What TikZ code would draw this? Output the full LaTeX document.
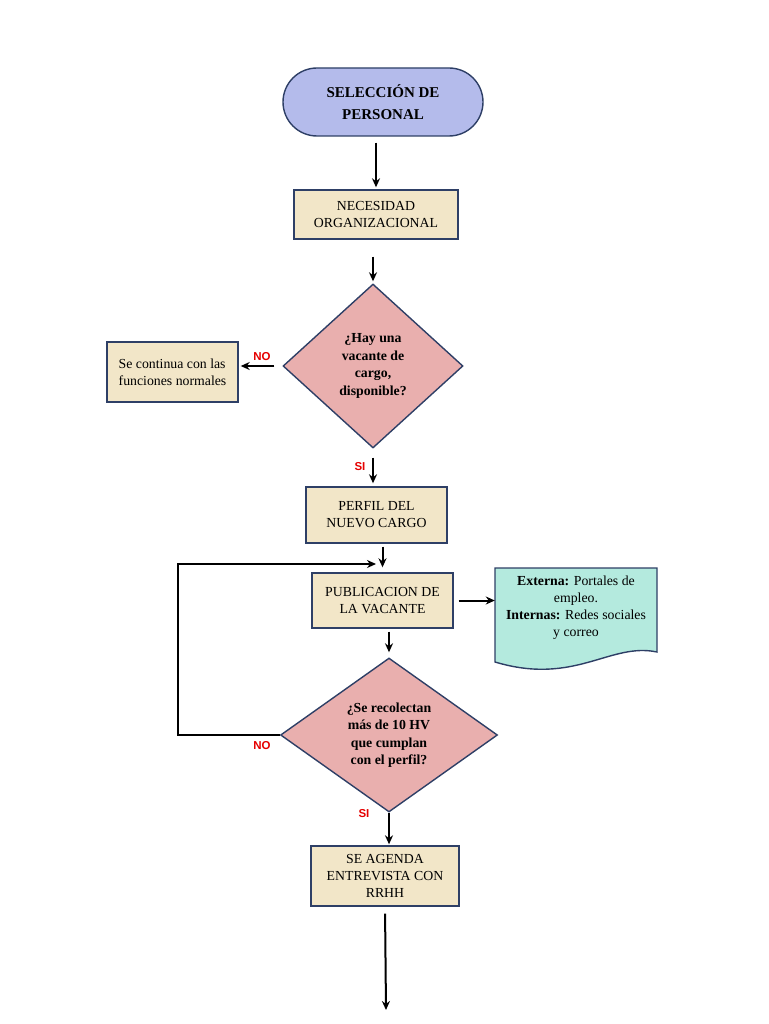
\documentclass[tikz,border=0pt]{standalone}
\usepackage{fontspec}
\setmainfont{Liberation Serif}
\newfontfamily\labfont{Liberation Sans}
\usetikzlibrary{shapes.geometric,arrows.meta}
\definecolor{navy}{HTML}{2E3F66}
\definecolor{termfill}{HTML}{B4BBEB}
\definecolor{boxfill}{HTML}{F2E6C8}
\definecolor{decfill}{HTML}{E9AFAE}
\definecolor{docfill}{HTML}{B4EADE}
\definecolor{labred}{HTML}{E50000}
\begin{document}
\begin{tikzpicture}[x=1pt,y=-1pt,
  every node/.style={font=\fontsize{13.8}{17}\selectfont},
  term/.style={draw=navy, line width=1.4pt, fill=termfill, rounded corners=34pt, minimum width=200pt, minimum height=68pt, align=center, font=\fontsize{15}{22}\selectfont\bfseries},
  proc/.style={draw=navy, line width=1.4pt, fill=boxfill, align=center, inner sep=0pt},
  dec/.style={draw=navy, line width=1.4pt, fill=decfill, diamond, inner sep=0pt, align=center, font=\fontsize{13.8}{17.5}\selectfont\bfseries},
  arr/.style={line width=2pt, -{Stealth[length=9pt,width=8pt]}},
  lab/.style={text=labred, font=\labfont\bfseries\fontsize{11.5}{13}\selectfont},
]
\useasboundingbox (0,0) rectangle (768,1024);

\node[term] (t) at (383,102) {SELECCIÓN DE\\PERSONAL};
\node[proc, minimum width=164pt, minimum height=49pt] (n) at (376,214.5) {NECESIDAD\\ORGANIZACIONAL};
\node[dec, minimum width=180pt, minimum height=164pt, aspect=1.1] (d1) at (373,366) {¿Hay una\\vacante de\\cargo,\\disponible?};
\node[proc, minimum width=131pt, minimum height=60pt, align=left] (c) at (172.5,372) {Se continua con las\\funciones normales};
\node[proc, minimum width=141pt, minimum height=56pt] (p) at (376.5,515) {PERFIL DEL\\NUEVO CARGO};
\node[proc, minimum width=141pt, minimum height=55pt] (u) at (382.5,600.5) {PUBLICACION DE\\LA VACANTE};

\path[draw=navy, line width=1.4pt, fill=docfill] (495,568) -- (657,568) -- (657,652) .. controls (610,642) and (575,686) .. (495,662) -- cycle;
\node[minimum width=162pt, minimum height=84pt, inner sep=0pt, align=center] (doc) at (576,608) {\textbf{Externa:} Portales de\\empleo.\\\textbf{Internas:} Redes sociales\\y correo};

\node[dec, minimum width=217pt, minimum height=154pt, aspect=1.41] (d2) at (389,735) {¿Se recolectan\\más de 10 HV\\que cumplan\\con el perfil?};
\node[proc, minimum width=148pt, minimum height=60pt] (s) at (385,876) {SE AGENDA\\ENTREVISTA CON\\RRHH};
\coordinate (lp) at (376,564);
\coordinate (fin) at (386,1010);

\draw[arr, shorten <=6pt, shorten >=2pt] (n.north |- t.south) -- (n.north);
\draw[arr, shorten <=17pt, shorten >=2pt] (d1.north |- n.south) -- (d1.north);
\draw[arr, shorten <=8pt, shorten >=2pt] (d1.west) -- (c.east |- d1.west);
\node[lab] (no1) at (262,357) {NO};
\draw[arr, shorten <=9pt, shorten >=3pt] (d1.south) -- (d1.south |- p.north);
\node[lab] (si1) at (360,467) {SI};
\draw[arr, shorten <=3pt, shorten >=5pt] (u.north |- p.south) -- (u.north);
\draw[arr] (d2.west) -- ++(-102,0) |- (lp);
\draw[arr, shorten <=5pt] (u.east) -- (u.east -| doc.west);
\draw[arr, shorten <=3pt, shorten >=5pt] (d2.north |- u.south) -- (d2.north);
\node[lab] (no2) at (262,746) {NO};
\node[lab] (si2) at (364,814) {SI};
\draw[arr, shorten >=1pt] (d2.south) -- (d2.south |- s.north);
\draw[arr, shorten <=7pt] (s.south) -- (fin);
\end{tikzpicture}
\end{document}
